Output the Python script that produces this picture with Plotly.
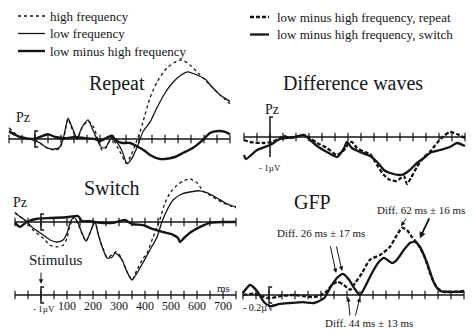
import plotly.graph_objects as go

W, H = 474, 334
FONT = "Liberation Serif"
INK = "#151515"

# ---------------- data (time in ms, amplitude in µV) ----------------
TICKS = list(range(-100, 751, 50))
TICK_LABELS = [100, 200, 300, 400, 500, 600, 700]

rep_high_t = [-100, -58, -8, 19, 46, 77, 96, 112, 127, 142, 162, 181, 204, 227, 242, 258, 273, 296, 315, 335,
              350, 369, 388, 404, 415, 442, 469, 508, 546, 565, 596, 635, 673, 712, 750]
rep_high_v = [1.4, 0.25, 0, -0.5, -1.1, -1.4, -1.1, 0.4, 2.5, 1.3, 0, 1.4, 2.25, 1.4, -0.1, -1.4, -1.1, 0.25, -0.9, -2.1,
              -3.0, -2.1, -0.5, 0.9, 2.1, 5.1, 7.1, 8.9, 9.75, 9.9, 9.25, 8.0, 6.75, 5.5, 4.4]

rep_low_t = [-100, -58, -8, 19, 46, 77, 96, 112, 127, 142, 162, 181, 204, 223, 238, 258, 273, 296, 315, 335,
             354, 373, 396, 415, 442, 469, 500, 531, 558, 588, 623, 654, 681, 712, 750]
rep_low_v = [1.1, 0.25, -0.1, -0.5, -1.1, -1.25, -1.0, 0.5, 2.6, 1.5, 0.1, 1.5, 2.4, 1.1, 0, -1.1, -1.0, 0.25, -0.4, -1.5,
             -3.1, -2.4, -0.75, 0.9, 2.1, 3.9, 5.75, 7.1, 7.9, 8.4, 8.0, 7.5, 6.5, 5.5, 4.7]

rep_diff_t = [-100, -58, -8, 19, 50, 77, 115, 154, 192, 231, 250, 281, 296, 315, 335, 365, 392, 423, 442, 481,
              519, 538, 569, 608, 646, 673, 704, 731, 750]
rep_diff_v = [0.9, 0.25, 0, 0.25, 0.6, 0.25, 0.1, 0.25, 0.1, 0, -0.25, 0.25, 0.4, -0.25, -0.5, -0.5, -0.9, -1.5, -2.0, -2.5,
              -2.4, -2.25, -1.75, -1.1, -0.1, 0.75, 1.0, 0.9, 0.6]

sw_high_t = [-100, -73, -54, -31, 8, 35, 62, 85, 100, 112, 127, 142, 158, 173, 188, 200, 208, 219, 235, 254,
             273, 288, 300, 312, 331, 350, 369, 392, 408, 431, 454, 477, 496, 523, 546, 573, 600, 623, 662, 700, 738, 750]
sw_high_v = [1.2, 0.5, 0, -1.0, -2.0, -2.9, -3.1, -2.9, -2.0, -0.4, 0.6, -0.2, -1.5, -2.4, -1.4, -0.4, 0, -1.4, -3.0, -4.4,
             -4.1, -3.75, -4.0, -4.75, -6.25, -7.25, -6.0, -4.6, -3.9, -1.9, 0, 2.4, 3.6, 4.6, 5.1, 5.4, 4.9, 3.9, 3.1, 2.4, 1.9, 1.8]

sw_low_t = [-100, -73, -54, -31, 8, 35, 62, 85, 100, 112, 127, 142, 158, 173, 188, 200, 208, 219, 235, 254,
            273, 285, 296, 312, 331, 350, 369, 392, 419, 446, 465, 485, 508, 542, 573, 612, 642, 677, 708, 738, 750]
sw_low_v = [1.1, 0.5, 0, -0.75, -1.6, -2.25, -2.5, -2.25, -1.4, -0.1, 0.6, -0.1, -1.4, -2.4, -1.4, -0.4, 0, -1.4, -3.1, -4.5,
            -4.4, -3.9, -4.1, -4.75, -6.25, -7.25, -6.4, -5.1, -3.5, -1.9, 0, 1.5, 2.75, 3.5, 3.75, 3.9, 3.6, 3.0, 2.4, 2.0, 1.9]

sw_diff_t = [-100, -81, -54, -15, 35, 100, 142, 158, 188, 227, 277, 323, 350, 392, 431, 469, 508, 527, 535, 550,
             577, 612, 650, 700, 750]
sw_diff_v = [-0.1, -0.6, 0, 0.4, 0.5, 0.6, 0.75, 0.1, 0.1, -0.1, -0.1, 0.25, -0.25, -0.4, -0.9, -1.25, -1.6, -2.0, -2.5, -2.0,
             -1.25, -0.6, -0.1, 0, 0]

dw_rep_t = [-100, -77, -23, 8, 38, 54, 77, 131, 154, 181, 219, 258, 285, 304, 315, 335, 362, 385, 412, 438,
            462, 488, 515, 527, 542, 565, 592, 615, 642, 669, 692, 719, 750]
dw_rep_v = [-0.15, -0.25, -0.3, -0.25, -0.05, 0.05, -0.05, 0.1, -0.05, -0.3, -0.55, -0.9, -0.65, -0.3, -0.25, -0.55, -0.75,
            -0.85, -1.4, -1.9, -2.15, -2.2, -1.95, -2.35, -2.05, -1.5, -1.0, -0.75, -0.3, 0.05, 0.25, 0.15, -0.05]

dw_sw_t = [-100, -92, -50, 0, 38, 62, 96, 131, 154, 181, 219, 258, 285, 296, 315, 346, 385, 412, 438, 462,
           500, 515, 538, 565, 592, 615, 654, 692, 719, 750]
dw_sw_v = [-0.9, -1.1, -0.65, -0.4, -0.1, -0.05, 0, 0.1, -0.15, -0.45, -0.75, -1.0, -0.55, -0.25, -0.55, -0.75, -0.95,
           -1.25, -1.65, -1.8, -1.9, -1.85, -1.65, -1.3, -1.05, -0.8, -0.65, -0.5, -0.3, -0.45]

gfp_rep_t = [-100, -58, -19, 4, 42, 96, 173, 215, 242, 262, 288, 312, 331, 358, 388, 427, 465, 492, 512, 531,
             550, 569, 596, 619, 646, 673, 750]
gfp_rep_v = [0, 0.03, -0.05, -0.08, -0.03, 0, -0.05, 0.05, 0.25, 0.33, 0.25, 0.13, 0.3, 0.55, 0.88, 1.0, 1.2, 1.5, 1.68, 1.62,
             1.45, 1.3, 1.0, 0.55, 0.18, 0.08, 0.1]

gfp_sw_t = [-100, -73, -46, -19, 4, 42, 81, 131, 173, 212, 235, 262, 285, 308, 327, 350, 369, 396, 423, 442,
            473, 492, 519, 542, 562, 581, 608, 635, 658, 696, 750]
gfp_sw_v = [0.05, 0.25, 0.1, -0.18, -0.28, -0.22, -0.2, -0.18, -0.2, -0.08, 0.18, 0.43, 0.53, 0.38, 0.18, 0, 0.2, 0.55, 0.83, 0.93,
            0.8, 0.88, 1.13, 1.3, 1.33, 1.2, 0.8, 0.3, 0.1, 0.08, 0.08]

# scale-bar half heights (µV)
BAR_LEFT = 1.0
BAR_DIFF = 1.0
BAR_GFP = 0.2

# legend entries: (label, dash, width)
LEGEND_LEFT = [("high frequency", "dot", 1.3),
               ("low frequency", "solid", 1.3),
               ("low minus high frequency", "solid", 2.4)]
LEGEND_RIGHT = [("low minus high frequency, repeat", "4px,2px", 2.3),
                ("low minus high frequency, switch", "solid", 2.3)]

THIN, THICK = 1.3, 2.4

# ---------------- figure ----------------
fig = go.Figure()


def curve(t, v, ax, dash="solid", width=THIN):
    fig.add_trace(go.Scatter(
        x=t, y=v, xaxis="x" + ax, yaxis="y" + ax, mode="lines",
        line=dict(color=INK, width=width, dash=dash, shape="spline", smoothing=0.6),
        showlegend=False, hoverinfo="skip"))


def time_axis(ax):
    fig.add_trace(go.Scatter(x=[TICKS[0], TICKS[-1]], y=[0, 0], xaxis="x" + ax, yaxis="y" + ax,
                             mode="lines", line=dict(color=INK, width=1.3), showlegend=False, hoverinfo="skip"))
    fig.add_trace(go.Scatter(x=TICKS, y=[0] * len(TICKS), xaxis="x" + ax, yaxis="y" + ax, mode="markers",
                             marker=dict(symbol="line-ns", size=6, line=dict(width=1.2, color=INK)),
                             showlegend=False, hoverinfo="skip", cliponaxis=False))


def scale_bar(ax, half, serif=12, bottom_serif=True):
    xs = [serif, 0, 0] + ([serif] if bottom_serif else [])
    ys = [half, half, -half] + ([-half] if bottom_serif else [])
    fig.add_trace(go.Scatter(x=xs, y=ys, xaxis="x" + ax, yaxis="y" + ax, mode="lines",
                             line=dict(color=INK, width=1.5), showlegend=False, hoverinfo="skip"))


# Repeat panel (axis "")
time_axis("")
scale_bar("", BAR_LEFT)
curve(rep_high_t, rep_high_v, "", dash="dot", width=THIN)
curve(rep_low_t, rep_low_v, "", width=THIN)
curve(rep_diff_t, rep_diff_v, "", width=THICK)

# Switch panel (axis 2)
time_axis("2")
scale_bar("2", BAR_LEFT)
curve(sw_high_t, sw_high_v, "2", dash="dot", width=THIN)
curve(sw_low_t, sw_low_v, "2", width=THIN)
curve(sw_diff_t, sw_diff_v, "2", width=THICK)

# Stimulus timeline (axis 3)
time_axis("3")
scale_bar("3", BAR_LEFT)

# Difference waves (axis 4)
time_axis("4")
scale_bar("4", BAR_DIFF, bottom_serif=False)
curve(dw_rep_t, dw_rep_v, "4", dash="4px,2px", width=2.3)
curve(dw_sw_t, dw_sw_v, "4", width=2.3)

# GFP (axis 5)
time_axis("5")
scale_bar("5", BAR_GFP)
curve(gfp_rep_t, gfp_rep_v, "5", dash="4px,2px", width=2.3)
curve(gfp_sw_t, gfp_sw_v, "5", width=2.3)


# ---------------- axes: pixel-calibrated ranges ----------------
def xrange_for(zero_px, left_px, right_px, pxms=0.26):
    return [(left_px - zero_px) / pxms, (right_px - zero_px) / pxms]


def yrange_for(base_py, pxuv):
    return [-(H - base_py) / pxuv, base_py / pxuv]


hidden = dict(visible=False, fixedrange=True)
layout_axes = dict(
    xaxis=dict(domain=[0, 0.5], range=xrange_for(35, 0, 237), **hidden),
    yaxis=dict(domain=[0, 1], range=yrange_for(139, 8), **hidden),
    xaxis2=dict(domain=[0, 0.5], range=xrange_for(41, 0, 237), anchor="y2", **hidden),
    yaxis2=dict(domain=[0, 1], range=yrange_for(222, 8), anchor="x2", **hidden),
    xaxis3=dict(domain=[0, 0.5], range=xrange_for(41, 0, 237), anchor="free", position=1 - 295 / H,
                visible=True, showline=False, showgrid=False, zeroline=False, ticks="",
                tickvals=TICK_LABELS, ticktext=[str(v) for v in TICK_LABELS],
                tickfont=dict(family=FONT, size=12, color=INK), ticklabelstandoff=2, fixedrange=True),
    yaxis3=dict(domain=[0, 1], range=yrange_for(295, 8), anchor="x3", **hidden),
    xaxis4=dict(domain=[0.5, 1], range=xrange_for(270, 237, 474), anchor="y4", **hidden),
    yaxis4=dict(domain=[0, 1], range=yrange_for(137, 20), anchor="x4", **hidden),
    xaxis5=dict(domain=[0.5, 1], range=xrange_for(269, 237, 474), anchor="y5", **hidden),
    yaxis5=dict(domain=[0, 1], range=yrange_for(295, 40), anchor="x5", **hidden),
)


def P(px, py):
    return px / W, 1 - py / H


annotations = []
shapes = []


def label(text, px, py, size, xanchor="center"):
    x, y = P(px, py)
    annotations.append(dict(text=text, x=x, y=y, xref="paper", yref="paper", showarrow=False,
                            xanchor=xanchor, yanchor="middle",
                            font=dict(family=FONT, size=size, color=INK)))


# manual legends
for i, (txt, dash, w) in enumerate(LEGEND_LEFT):
    py = 16 + 17.5 * i
    x0, y0 = P(18, py)
    x1, _ = P(45, py)
    shapes.append(dict(type="line", xref="paper", yref="paper", x0=x0, x1=x1, y0=y0, y1=y0,
                       line=dict(color=INK, width=w, dash=dash)))
    label(txt, 48, py, 13, xanchor="left")
for i, (txt, dash, w) in enumerate(LEGEND_RIGHT):
    py = 17 + 17.5 * i
    x0, y0 = P(250, py)
    x1, _ = P(269, py)
    shapes.append(dict(type="line", xref="paper", yref="paper", x0=x0, x1=x1, y0=y0, y1=y0,
                       line=dict(color=INK, width=w, dash=dash)))
    label(txt, 275, py, 13, xanchor="left")

label("Repeat", 117, 83, 20)
label("Switch", 112, 188, 20)
label("Difference waves", 353, 83, 20)
label("GFP", 312, 202, 20)
label("Pz", 23, 117, 14)
label("Pz", 20, 202, 14)
label("Pz", 272, 109, 14)
label("Stimulus", 56, 260, 15)
label("ms", 223, 288, 11)
label("- 1µV", 44, 309, 9)
label("- 1µV", 270, 168, 9)
label("- 0.2µV", 259, 307, 10)
label("Diff. 26 ms ± 17 ms", 321, 233, 11)
label("Diff. 62 ms ± 16 ms", 421, 210, 11)
label("Diff. 44 ms ± 13 ms", 369, 323, 11)


def arrow(ax_id, head, tail, width=1.0):
    annotations.append(dict(text="", x=head[0], y=head[1], ax=tail[0], ay=tail[1],
                            xref="x" + ax_id, yref="y" + ax_id, axref="x" + ax_id, ayref="y" + ax_id,
                            showarrow=True, arrowhead=2, arrowsize=0.9 if width < 1.5 else 0.7,
                            arrowwidth=width, arrowcolor=INK, standoff=0, startstandoff=0))


# stimulus arrow (onset at 0 ms)
arrow("3", (0, 1.4), (0, 3.0), 1.0)
# GFP arrows
arrow("5", (258, 0.55), (235, 1.25))
arrow("5", (281, 0.6), (258, 1.25))
arrow("5", (508, 1.72), (531, 1.95))
arrow("5", (580, 1.42), (619, 1.95), 1.8)
arrow("5", (304, -0.05), (312, -0.55))
arrow("5", (350, -0.06), (331, -0.55))

fig.update_layout(
    width=W, height=H, margin=dict(l=0, r=0, t=0, b=0),
    paper_bgcolor="white", plot_bgcolor="rgba(0,0,0,0)",
    font=dict(family=FONT, color=INK),
    showlegend=False,
    annotations=annotations,
    shapes=shapes,
    **layout_axes,
)

fig.write_html("out.html", config={"displayModeBar": False, "staticPlot": True})
